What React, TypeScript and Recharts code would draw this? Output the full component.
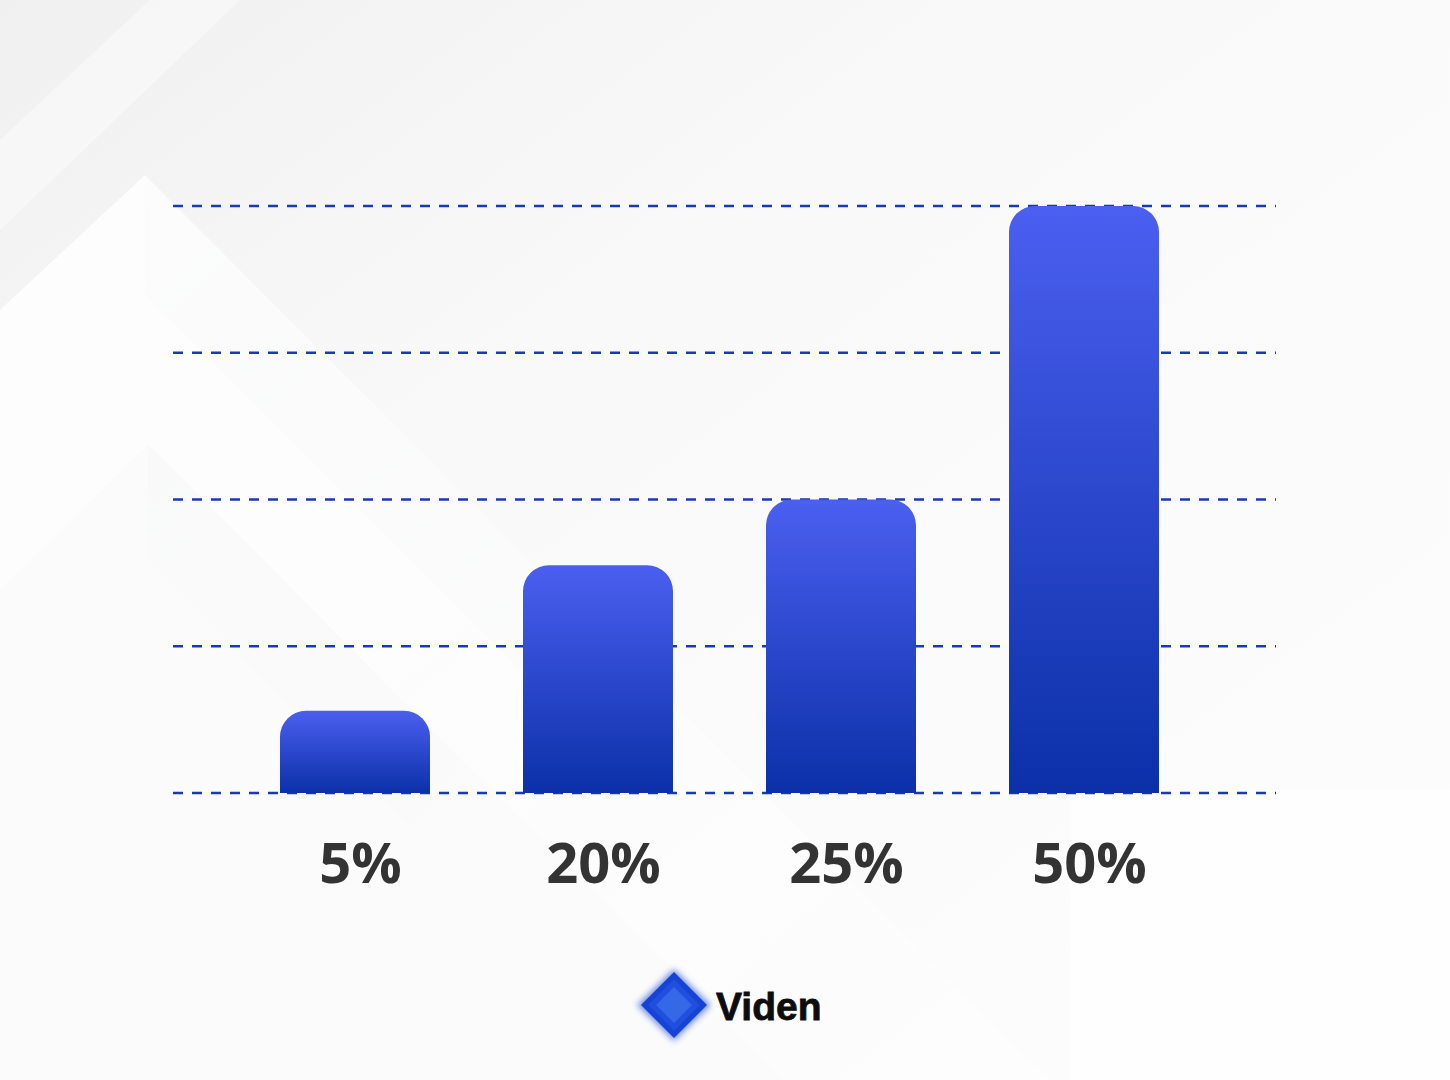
import { BarChart, Bar, XAxis, YAxis, CartesianGrid } from 'recharts';

// ---------------------------------------------------------------------------
// Data
// ---------------------------------------------------------------------------

const categories = ['5%', '20%', '25%', '50%'];
const barValues = [7, 19.4, 25, 50];
const yTicks = [0, 12.5, 25, 37.5, 50];

const chartData = categories.map((label, i) => ({ label, value: barValues[i] }));

// ---------------------------------------------------------------------------
// Decoration
// ---------------------------------------------------------------------------

function Background() {
  return (
    <svg width={1450} height={1080} style={{ position: 'absolute', left: 0, top: 0 }}>
      <defs>
        <linearGradient id="bgBase" x1="0" y1="0" x2="1" y2="1">
          <stop offset="0%" stopColor="#f0f0f0" />
          <stop offset="35%" stopColor="#f9f9f9" />
          <stop offset="100%" stopColor="#fdfdfd" />
        </linearGradient>
        <linearGradient id="chev" x1="0" y1="0" x2="1" y2="1">
          <stop offset="0%" stopColor="#ffffff" stopOpacity={0.9} />
          <stop offset="100%" stopColor="#ffffff" stopOpacity={0.3} />
        </linearGradient>
        <linearGradient id="shade" x1="0" y1="0" x2="1" y2="1">
          <stop offset="0%" stopColor="#e8e9e9" stopOpacity={0.8} />
          <stop offset="100%" stopColor="#e8e9e9" stopOpacity={0} />
        </linearGradient>
      </defs>
      <rect width={1450} height={1080} fill="url(#bgBase)" />
      <polygon points="0,140 150,0 240,0 0,230" fill="#ffffff" opacity={0.4} />
      <polygon points="145,175 260,290 700,730 640,790 145,295" fill="url(#shade)" />
      <polygon points="0,310 145,175 1050,1080 0,1080" fill="url(#chev)" />
      <polygon points="148,445 260,557 600,900 540,960 148,560" fill="url(#shade)" opacity={0.7} />
      <polygon points="0,590 148,445 783,1080 0,1080" fill="#fafafa" opacity={0.85} />
      <rect x={1070} y={790} width={380} height={290} fill="#ffffff" opacity={0.6} />
    </svg>
  );
}

function Logo() {
  return (
    <svg width={1450} height={1080} style={{ position: 'absolute', left: 0, top: 0, pointerEvents: 'none' }}>
      <defs>
        <filter id="glow" x="-50%" y="-50%" width="200%" height="200%">
          <feGaussianBlur stdDeviation="3" />
        </filter>
      </defs>
      <polygon points="674,969 711,1005 674,1041 637,1005" fill="#1d47d8" opacity={0.6} filter="url(#glow)" />
      <polygon points="674,972 707,1005 674,1038 641,1005" fill="#1543d6" />
      <polygon points="674,979 700,1005 674,1031 648,1005" fill="#1f4fdc" />
      <polygon points="674,987 692,1005 674,1023 656,1005" fill="#3468e6" />
      <text
        x={716}
        y={1020}
        fontFamily="'Liberation Sans', Arial, sans-serif"
        fontWeight={700}
        fontSize={39}
        fill="#0d0d0d"
        stroke="#0d0d0d"
        strokeWidth={0.8}
      >
        Viden
      </text>
    </svg>
  );
}

// ---------------------------------------------------------------------------
// Tick
// ---------------------------------------------------------------------------

function CategoryTick(props: any) {
  const { x, y, payload } = props;
  return (
    <text
      x={x + 6}
      y={y + 90}
      textAnchor="middle"
      fontFamily="'Open Sans', sans-serif"
      fontWeight={700}
      fontSize={56}
      fill="#333333"
    >
      {payload.value}
    </text>
  );
}

// ---------------------------------------------------------------------------
// App
// ---------------------------------------------------------------------------

export default function App() {
  return (
    <div style={{ position: 'absolute', left: 0, top: 0, width: 1450, height: 1080, overflow: 'hidden' }}>
      <Background />
      <div style={{ position: 'absolute', left: 0, top: 0 }}>
        <BarChart
          width={1450}
          height={1080}
          data={chartData}
          margin={{ top: 206, right: 174, bottom: 187, left: 173 }}
        >
          <defs>
            <linearGradient id="barFill" x1="0" y1="0" x2="0" y2="1">
              <stop offset="0%" stopColor="#4b5ff0" />
              <stop offset="100%" stopColor="#0b30a8" />
            </linearGradient>
          </defs>
          <CartesianGrid
            vertical={false}
            stroke="#1a3ab4"
            strokeWidth={2.5}
            strokeDasharray="10 9"
          />
          <XAxis
            dataKey="label"
            axisLine={false}
            tickLine={false}
            tickSize={0}
            tickMargin={0}
            padding={{ left: 60, right: 71 }}
            tick={<CategoryTick />}
            height={100}
            interval={0}
          />
          <YAxis hide domain={[0, 50]} ticks={yTicks} width={0} />
          <Bar
            dataKey="value"
            barSize={150}
            fill="url(#barFill)"
            radius={[26, 26, 0, 0]}
            isAnimationActive={false}
          />
        </BarChart>
      </div>
      <Logo />
    </div>
  );
}
